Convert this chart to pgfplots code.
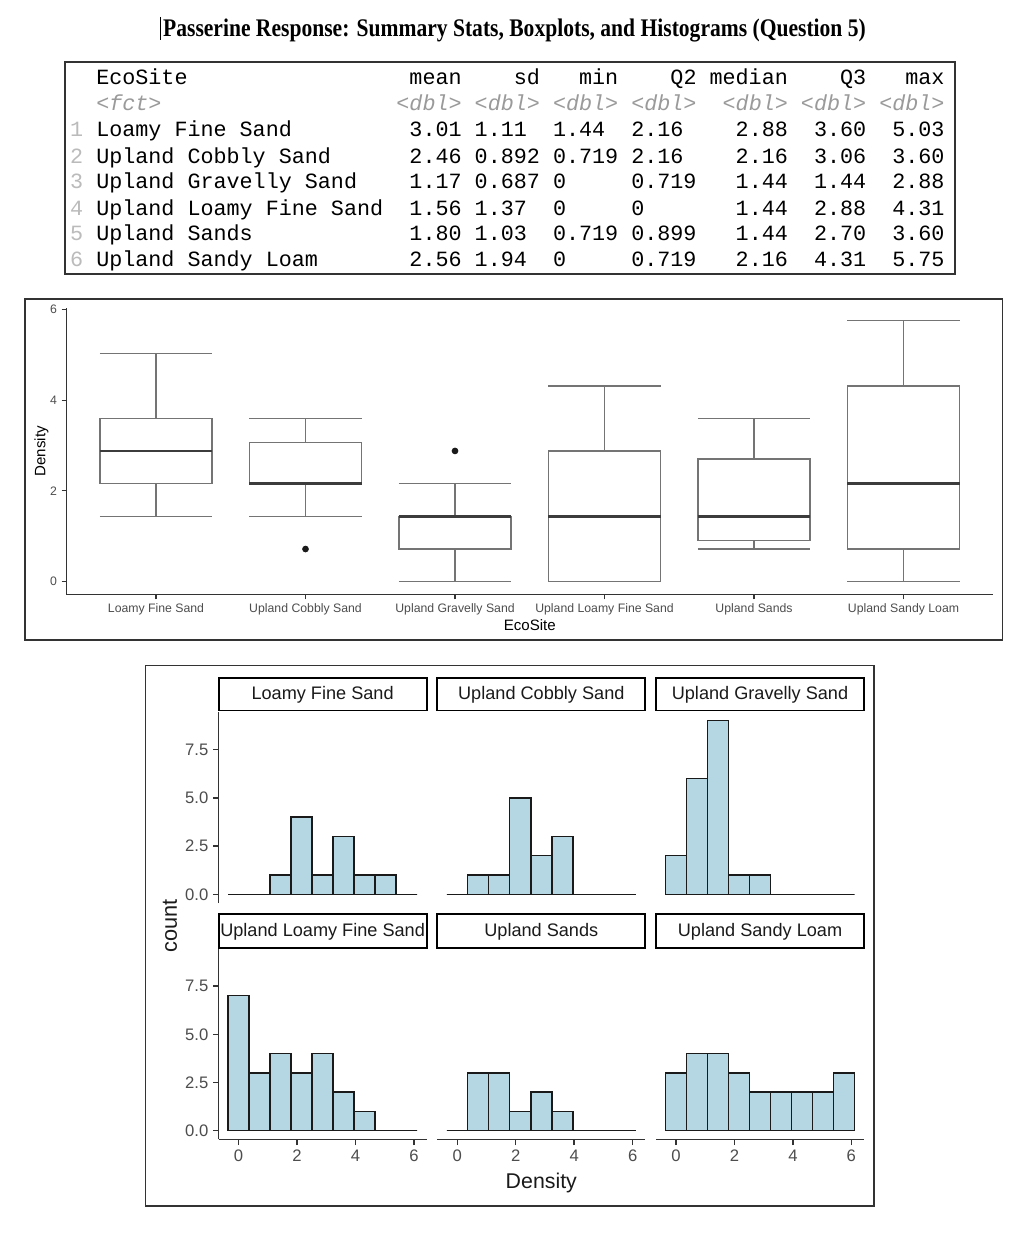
\documentclass[border=0pt]{standalone}
\usepackage{fontspec}
\setmainfont{Liberation Sans}
\newfontfamily\titlefont{Liberation Serif}
\newfontfamily\tabfont{Liberation Mono}
\usepackage{pgfplots}
\pgfplotsset{compat=1.18}
\usepgfplotslibrary{statistics}
\definecolor{g20}{HTML}{333333}
\definecolor{g30}{HTML}{4D4D4D}
\definecolor{g10}{HTML}{1A1A1A}
\definecolor{boxgray}{HTML}{747474}
\definecolor{medgray}{HTML}{3C3C3C}
\definecolor{histfill}{HTML}{B4D7E3}
\definecolor{tabgray}{HTML}{9A9A9A}
\definecolor{rowgray}{HTML}{BBBBBB}
\newcommand\tc[3]{\node[anchor=base west,inner sep=0pt,font=\tabfont\fontsize{16.3}{18}\selectfont] at ({96+13.05*#1},#2) {#3};}
\newcommand\tg[3]{\node[anchor=base west,inner sep=0pt,text=tabgray,font=\tabfont\itshape\fontsize{16.3}{18}\selectfont] at ({96+13.05*#1},#2) {#3};}
\newcommand\tr[2]{\node[anchor=base west,inner sep=0pt,text=rowgray,font=\tabfont\fontsize{16.3}{18}\selectfont] at ({96+13.05*-2},#1) {#2};}
\pgfplotsset{
  hist/.style={
    scale only axis, width=156pt, height=143.25pt, anchor=south west,
    xmin=-0.6828, xmax=6.4328, ymin=-0.45, ymax=9.45,
    axis x line*=bottom, axis y line*=left,
    axis line style={g20,line width=1.1pt},
    xtick={0,2,4,6}, ytick={0,2.5,5,7.5}, yticklabels={0.0,2.5,5.0,7.5},
    tick style={g20,line width=1.1pt}, tick align=outside, major tick length=4.2pt,
    tick label style={font=\fontsize{12.5}{14}\selectfont, text=g30},
    /pgf/number format/assume math mode=true,
  },
  hbar/.style={ybar interval, fill=histfill, draw=g10, line width=1.05pt},
  bx/.style={boxgray,line width=0.95pt,mark=*,mark size=2pt,mark options={fill=g10,draw=g10}},
}
\begin{document}
\begin{tikzpicture}[x=0.75pt,y=-0.75pt]
\path[fill=white,use as bounding box] (0,0) rectangle (1018,1234);
% title
\draw[black,line width=1.1pt] (160.5,17) -- (160.5,40);
\node[inner sep=0pt,anchor=base] at (514.5,37) {\resizebox{527pt}{\height}{\titlefont\bfseries\fontsize{19}{22}\selectfont Passerine Response: Summary Stats, Boxplots, and Histograms (Question 5)}};
% table
\draw[g20,line width=0.8pt] (65,62) rectangle (955,274);
\tc{0}{85}{EcoSite}\tc{24}{85}{mean}\tc{32}{85}{sd}\tc{37}{85}{min}\tc{44}{85}{Q2 median}\tc{57}{85}{Q3}\tc{62}{85}{max}
\tg{0}{111}{<fct>}\tg{23}{111}{<dbl>}\tg{29}{111}{<dbl>}\tg{35}{111}{<dbl>}\tg{41}{111}{<dbl>}\tg{48}{111}{<dbl>}\tg{54}{111}{<dbl>}\tg{60}{111}{<dbl>}
\tr{137}{1}\tc{0}{137}{Loamy Fine Sand}\tc{24}{137}{3.01}\tc{29}{137}{1.11}\tc{35}{137}{1.44}\tc{41}{137}{2.16}\tc{49}{137}{2.88}\tc{55}{137}{3.60}\tc{61}{137}{5.03}
\tr{163}{2}\tc{0}{163}{Upland Cobbly Sand}\tc{24}{163}{2.46}\tc{29}{163}{0.892}\tc{35}{163}{0.719}\tc{41}{163}{2.16}\tc{49}{163}{2.16}\tc{55}{163}{3.06}\tc{61}{163}{3.60}
\tr{189}{3}\tc{0}{189}{Upland Gravelly Sand}\tc{24}{189}{1.17}\tc{29}{189}{0.687}\tc{35}{189}{0}\tc{41}{189}{0.719}\tc{49}{189}{1.44}\tc{55}{189}{1.44}\tc{61}{189}{2.88}
\tr{215}{4}\tc{0}{215}{Upland Loamy Fine Sand}\tc{24}{215}{1.56}\tc{29}{215}{1.37}\tc{35}{215}{0}\tc{41}{215}{0}\tc{49}{215}{1.44}\tc{55}{215}{2.88}\tc{61}{215}{4.31}
\tr{240}{5}\tc{0}{240}{Upland Sands}\tc{24}{240}{1.80}\tc{29}{240}{1.03}\tc{35}{240}{0.719}\tc{41}{240}{0.899}\tc{49}{240}{1.44}\tc{55}{240}{2.70}\tc{61}{240}{3.60}
\tr{266}{6}\tc{0}{266}{Upland Sandy Loam}\tc{24}{266}{2.56}\tc{29}{266}{1.94}\tc{35}{266}{0}\tc{41}{266}{0.719}\tc{49}{266}{2.16}\tc{55}{266}{4.31}\tc{61}{266}{5.75}
% boxplot panel
\draw[g20,line width=0.9pt] (25,299) rectangle (1002.5,640);
\begin{axis}[
  at={(49.725pt,-446.025pt)}, anchor=south west, scale only axis,
  width=695.2pt, height=215.3pt,
  xmin=0.4, xmax=6.6, ymin=-0.2875, ymax=6.0375,
  axis x line*=bottom, axis y line*=left,
  axis line style={g20,line width=0.8pt},
  xtick={1,2,3,4,5,6},
  xticklabels={Loamy Fine Sand,Upland Cobbly Sand,Upland Gravelly Sand,Upland Loamy Fine Sand,Upland Sands,Upland Sandy Loam},
  ytick={0,2,4,6},
  tick style={g20,line width=0.8pt}, tick align=outside, major tick length=3.5pt,
  tick label style={font=\fontsize{9.2}{11}\selectfont, text=g30},
  /pgf/number format/assume math mode=true,
  xlabel={EcoSite}, ylabel={Density},
  label style={font=\fontsize{11.3}{13}\selectfont, text=black},
  x label style={at={(axis description cs:0.5,-0.1055)}, anchor=center},
  y label style={at={(axis description cs:-0.0268,0.5)}, anchor=center},
  boxplot/draw direction=y,
  boxplot/every median/.style={line width=1.9pt, draw=medgray},
]
\addplot[bx, boxplot prepared={draw position=1,lower whisker=1.44,lower quartile=2.16,median=2.88,upper quartile=3.60,upper whisker=5.03,box extend=0.75,whisker extend=0.75}] coordinates {};
\addplot[bx, boxplot prepared={draw position=2,lower whisker=1.44,lower quartile=2.16,median=2.16,upper quartile=3.06,upper whisker=3.60,box extend=0.75,whisker extend=0.75}] coordinates {(0,0.719)};
\addplot[bx, boxplot prepared={draw position=3,lower whisker=0,lower quartile=0.719,median=1.44,upper quartile=1.44,upper whisker=2.16,box extend=0.75,whisker extend=0.75}] coordinates {(0,2.88)};
\addplot[bx, boxplot prepared={draw position=4,lower whisker=0,lower quartile=0,median=1.44,upper quartile=2.88,upper whisker=4.31,box extend=0.75,whisker extend=0.75}] coordinates {};
\addplot[bx, boxplot prepared={draw position=5,lower whisker=0.719,lower quartile=0.899,median=1.44,upper quartile=2.70,upper whisker=3.60,box extend=0.75,whisker extend=0.75}] coordinates {};
\addplot[bx, boxplot prepared={draw position=6,lower whisker=0,lower quartile=0.719,median=2.16,upper quartile=4.31,upper whisker=5.75,box extend=0.75,whisker extend=0.75}] coordinates {};
\end{axis}
% histogram panel
\draw[g20,line width=0.9pt] (145.5,665.5) rectangle (874,1206);
\begin{axis}[hist, at={(163.95pt,-677.25pt)}, hide x axis]
\addplot[hbar] coordinates {(-0.3594,0) (0.3594,0) (1.0781,1) (1.7969,4) (2.5156,1) (3.2344,3) (3.9531,1) (4.6719,1) (5.3906,0) (6.1094,0)};
\end{axis}
\begin{axis}[hist, at={(327.975pt,-677.25pt)}, hide x axis, hide y axis]
\addplot[hbar] coordinates {(-0.3594,0) (0.3594,1) (1.0781,1) (1.7969,5) (2.5156,2) (3.2344,3) (3.9531,0) (4.6719,0) (5.3906,0) (6.1094,0)};
\end{axis}
\begin{axis}[hist, at={(492pt,-677.25pt)}, hide x axis, hide y axis]
\addplot[hbar] coordinates {(-0.3594,2) (0.3594,6) (1.0781,9) (1.7969,1) (2.5156,1) (3.2344,0) (3.9531,0) (4.6719,0) (5.3906,0) (6.1094,0)};
\end{axis}
\begin{axis}[hist, at={(163.95pt,-854.55pt)}]
\addplot[hbar] coordinates {(-0.3594,7) (0.3594,3) (1.0781,4) (1.7969,3) (2.5156,4) (3.2344,2) (3.9531,1) (4.6719,0) (5.3906,0) (6.1094,0)};
\end{axis}
\begin{axis}[hist, at={(327.975pt,-854.55pt)}, hide y axis, xlabel={Density},
  x label style={at={(axis description cs:0.5,-0.228)}, anchor=center, font=\fontsize{16}{18}\selectfont, text=g10}]
\addplot[hbar] coordinates {(-0.3594,0) (0.3594,3) (1.0781,3) (1.7969,1) (2.5156,2) (3.2344,1) (3.9531,0) (4.6719,0) (5.3906,0) (6.1094,0)};
\end{axis}
\begin{axis}[hist, at={(492pt,-854.55pt)}, hide y axis]
\addplot[hbar] coordinates {(-0.3594,3) (0.3594,4) (1.0781,4) (1.7969,3) (2.5156,2) (3.2344,2) (3.9531,2) (4.6719,2) (5.3906,3) (6.1094,0)};
\end{axis}
% strips
\foreach \xl/\lab in {218.6/Loamy Fine Sand,437.3/Upland Cobbly Sand,656.0/Upland Gravelly Sand}{
  \draw[black,line width=1.4pt,fill=white] (\xl,678) rectangle ({\xl+208},710.5);
  \node[inner sep=0pt,text=g10,font=\fontsize{13.6}{15}\selectfont] at ({\xl+104},695) {\lab};
}
\foreach \xl/\lab in {218.6/Upland Loamy Fine Sand,437.3/Upland Sands,656.0/Upland Sandy Loam}{
  \draw[black,line width=1.4pt,fill=white] (\xl,914) rectangle ({\xl+208},948);
  \node[inner sep=0pt,text=g10,font=\fontsize{13.6}{15}\selectfont] at ({\xl+104},932) {\lab};
}
\node[rotate=90,inner sep=0pt,text=g10,font=\fontsize{16.3}{18}\selectfont] at (170,925.7) {count};
\end{tikzpicture}
\end{document}
